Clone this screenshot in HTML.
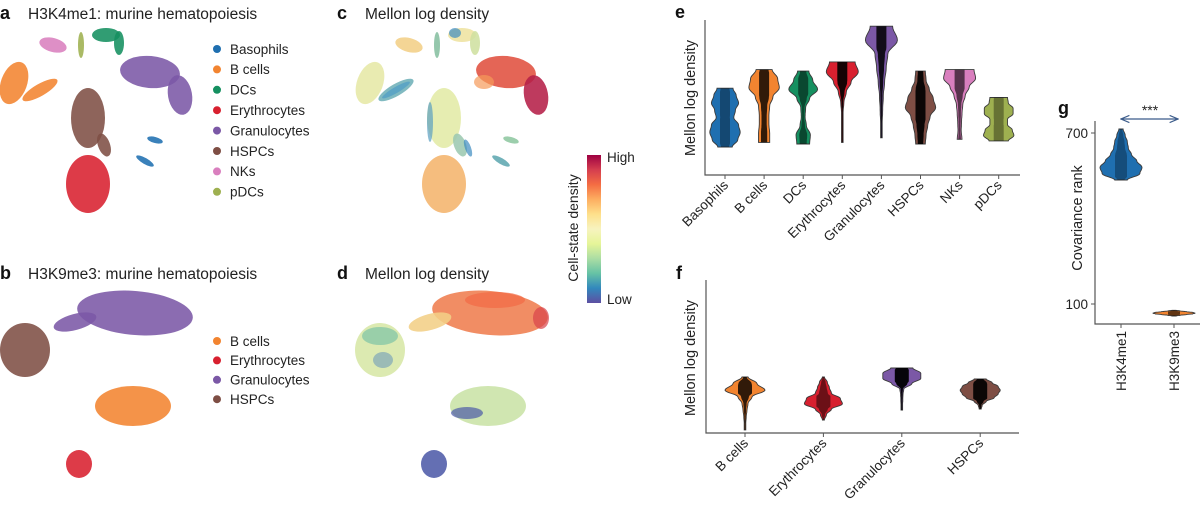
<!DOCTYPE html>
<html><head><meta charset="utf-8"><style>
html,body{margin:0;padding:0;background:#fff;}
svg{display:block;font-family:"Liberation Sans",sans-serif;}
</style></head><body>
<svg id="fig" width="1200" height="519" viewBox="0 0 1200 519" xmlns="http://www.w3.org/2000/svg">
<defs>
<linearGradient id="cbar" x1="0" y1="1" x2="0" y2="0">
<stop offset="0" stop-color="#5e4fa2"/><stop offset="0.1" stop-color="#3288bd"/><stop offset="0.2" stop-color="#66c2a5"/><stop offset="0.3" stop-color="#abdda4"/><stop offset="0.4" stop-color="#e6f598"/><stop offset="0.5" stop-color="#f7f3bf"/><stop offset="0.6" stop-color="#fee08b"/><stop offset="0.7" stop-color="#fdae61"/><stop offset="0.8" stop-color="#f46d43"/><stop offset="0.9" stop-color="#d53e4f"/><stop offset="1" stop-color="#9e0142"/>
</linearGradient>
<marker id="arr" markerWidth="8" markerHeight="8" refX="7" refY="4" orient="auto-start-reverse"><path d="M0,1 L7,4 L0,7" fill="none" stroke="#3b5b8a" stroke-width="1"/></marker>
</defs>
<g id="root"></g>
</svg>
<script>
// ---------- data ----------
const catsA = ['Basophils','B cells','DCs','Erythrocytes','Granulocytes','HSPCs','NKs','pDCs'];
const catColors = ['#1f6fb0','#f28430','#159060','#d8202f','#7b58a6','#7e4e44','#d97fbe','#9eb050'];
// UMAP cluster ellipses, panel a: [cx, cy, rx, ry, rot, categoryIndex]
const umapA = [[53,45,14,7,15,6],[81,45,3,13,0,7],[106,35,14,7,0,2],[119,43,5,12,0,2],[14,83,13,22,20,1],[40,90,20,6,-30,1],[150,72,30,16,5,4],[180,95,12,20,-10,4],[88,118,17,30,0,5],[104,145,6,12,-20,5],[88,184,22,29,0,3],[155,140,8,3,15,0],[145,161,10,3,30,0]];
const densityC = ['#f2cf86','#86bfa0','#eee3a0','#cfe0a0','#e6e8a6','#6fb0b8','#e0503f','#b51f48','#e3eaa6','#9cc8b0','#f4b46c','#8ec7a0','#5fa7b0'];
const accentC = [[40,90,16,3,-30,'#4f9cc4'],[74,122,3,20,0,'#5a9ec0'],[99,33,6,5,0,'#3d8cc0'],[128,82,10,7,0,'#f59a5a'],[112,148,3,9,-20,'#3d8cc0']];
const catsB = [1,3,4,5];
const umapB = [[25,350,25,27,0,5],[135,313,58,22,5,4],[75,322,22,8,-15,4],[133,406,38,20,0,1],[79,464,13,14,0,3]];
const densityD = ['#d7e7a6','#ef7d4f','#f2cf86','#c9e3a6','#4e5ba8'];
const accentD = [[25,336,18,9,0,'#7cc3a5'],[28,360,10,8,0,'#7fa6b8'],[112,413,16,6,0,'#4c5aa6'],[186,318,8,11,0,'#d8434a'],[140,300,30,8,0,'#f26a44']];
// panel e violins (Mellon log density)
const eMin = [1.8,2.1,2.0,2.1,2.4,2.0,2.3,2.2];
const eMax = [5.6,6.8,6.7,7.3,9.6,6.7,6.8,5.0];
const eProf = [[0.45,0.8,0.95,0.85,0.55,0.65,0.85,0.7,0.5],[0.35,0.35,0.3,0.3,0.35,0.55,0.95,0.85,0.5],[0.4,0.45,0.2,0.12,0.15,0.4,0.9,0.6,0.35],[0.05,0.05,0.05,0.05,0.1,0.25,0.55,1.0,0.8],[0.05,0.05,0.08,0.12,0.2,0.3,0.4,1.0,0.7],[0.3,0.35,0.45,0.6,0.95,0.8,0.55,0.35,0.3],[0.15,0.1,0.12,0.15,0.2,0.35,0.6,1.0,0.9],[0.6,0.95,0.85,0.55,0.55,0.9,0.9,0.6,0.55]];
const eDots = [0.35,0.8,0.5,0.9,0.85,0.9,0.6,0.35];
// panel f violins
const fCats = ['B cells','Erythrocytes','Granulocytes','HSPCs'];
const fColorIdx = [1,3,4,5];
const fMin = [0.2,0.85,1.5,1.57];
const fMax = [3.66,3.66,4.25,3.53];
const fProf = [[0.04,0.04,0.06,0.1,0.15,0.35,1.0,0.6,0.15],[0.05,0.15,0.4,0.95,0.85,0.4,0.3,0.2,0.05],[0.04,0.04,0.05,0.06,0.1,0.5,0.95,0.95,0.55],[0.05,0.1,0.3,0.7,0.9,1.0,0.9,0.6,0.3]];
const fDots = [0.8,0.5,0.95,0.9];
// panel g violins (covariance rank)
const gCats = ['H3K4me1','H3K9me3'];
const gColorIdx = [0,1];
const gMin = [535,58];
const gMax = [714,78];
const gProf = [[0.3,0.9,1.0,0.75,0.5,0.35,0.3,0.2,0.1],[0.1,0.3,0.6,0.9,1.0,0.9,0.6,0.3,0.1]];
const gDots = [0.3,0.6];
const gTicks = [700,100];

// ---------- helpers ----------
const NS='http://www.w3.org/2000/svg';
const root=document.getElementById('root');
function mk(tag,attrs,parent){const e=document.createElementNS(NS,tag);for(const k in attrs)e.setAttribute(k,attrs[k]);(parent||root).appendChild(e);return e;}
function txt(s,x,y,size,opts,parent){const t=mk('text',Object.assign({x:x,y:y,'font-size':size,fill:'#222'},opts||{}),parent);t.textContent=s;return t;}

const xE=i=>725+i*39.1, yE=v=>175-v*15.5;
const xF=i=>745+i*78.4, yF=v=>433-v*15.3;
const xG=i=>1121+i*53, yG=r=>133-(r-700)*(171/600);

function profAt(p,t){const f=t*(p.length-1);const i=Math.min(Math.floor(f),p.length-2);const u=f-i;const c=(1-Math.cos(u*Math.PI))/2;return p[i]*(1-c)+p[i+1]*c;}
function violinPts(cx,vmin,vmax,prof,W,ys,cap){
  const L=[],R=[],JL=[],JR=[];const N=48;
  for(let k=0;k<=N;k++){const t=k/N;const v=vmin+(vmax-vmin)*t;const w=profAt(prof,t)*W;const y=ys(v);
    L.push([cx-w,y]);R.push([cx+w,y]);const j=Math.min(w*0.55,cap);JL.push([cx-j,y]);JR.push([cx+j,y]);}
  const outline=L.concat(R.reverse()).map(p=>p[0].toFixed(1)+','+p[1].toFixed(1)).join(' ');
  const jit=JL.concat(JR.reverse()).map(p=>p[0].toFixed(1)+','+p[1].toFixed(1)).join(' ');
  return [outline,jit];
}

// ---------- scatter panels ----------
function scatter(shapes,colorFn,dx,name){
  const g=mk('g',{});
  
  
  shapes.forEach((s,i)=>{const e=mk('ellipse',{cx:s[0]+dx,cy:s[1],rx:s[2],ry:s[3],transform:'rotate('+s[4]+' '+(s[0]+dx)+' '+s[1]+')',fill:colorFn(s,i),'fill-opacity':0.88},g);
    
    });
  return g;
}
function accents(list,dx,g){list.forEach(s=>{const e=mk('ellipse',{cx:s[0]+dx,cy:s[1],rx:s[2],ry:s[3],transform:'rotate('+s[4]+' '+(s[0]+dx)+' '+s[1]+')',fill:s[5],'fill-opacity':0.7},g);
  
  });}

// panel labels and titles
function plabel(l,x,y,title,tx){const a=txt(l,x,y,18,{'font-weight':'bold',fill:'#111'});
  if(title){const t=txt(title,tx,y,15.5,{});}}
plabel('a',0,19,'H3K4me1: murine hematopoiesis',28);
plabel('b',0,279,'H3K9me3: murine hematopoiesis',28);
plabel('c',337,19,'Mellon log density',365);
plabel('d',337,279,'Mellon log density',365);
plabel('e',675,18);
plabel('f',676,279);
plabel('g',1058,114);

scatter(umapA,s=>catColors[s[5]],0,'umap-a');
scatter(umapB,s=>catColors[s[5]],0,'umap-b');
const gc=scatter(umapA,(s,i)=>densityC[i],356,'umap-c'); accents(accentC,356,gc);
const gd=scatter(umapB,(s,i)=>densityD[i],355,'umap-d'); accents(accentD,355,gd);

// legends
catsA.forEach((c,i)=>{const y=49+i*20.4;const d=mk('circle',{cx:217,cy:y,r:4,fill:catColors[i]});
  const t=txt(c,230,y+4.8,13.5,{});});
catsB.forEach((ci,i)=>{const y=341+i*19.4;const d=mk('circle',{cx:217,cy:y,r:4,fill:catColors[ci]});
  const t=txt(catsA[ci],230,y+4.8,13.5,{});});

// colorbar
const cb=mk('rect',{x:587,y:155,width:14,height:148,fill:'url(#cbar)'});
let t=txt('High',607,162,13.5,{});
t=txt('Low',607,304,13.5,{});
t=txt('Cell-state density',0,0,14,{'text-anchor':'middle',transform:'translate(578,228) rotate(-90)'});

// ---------- violin panels ----------
function axes(x0,y0,y1,x1,name){const a=mk('path',{d:'M'+x0+','+y0+' L'+x0+','+y1+' L'+x1+','+y1,fill:'none',stroke:'#555','stroke-width':1.2});}
function drawViolins(cats,xs,ys,mins,maxs,profs,colorIdx,dots,W,cap,panel){
  cats.forEach((c,i)=>{const [o,j]=violinPts(xs(i),mins[i],maxs[i],profs[i],W,ys,cap);
    const v=mk('polygon',{points:o,fill:catColors[colorIdx[i]],stroke:'#3a3a3a','stroke-width':0.9});
    
    
    const jj=mk('polygon',{points:j,fill:'#000','fill-opacity':dots[i]});
    
    
  });
}
// e
axes(705,20,175,1020,'axes-e');
drawViolins(catsA,xE,yE,eMin,eMax,eProf,[0,1,2,3,4,5,6,7],eDots,16,5,'e');
catsA.forEach((c,i)=>{mk('line',{x1:xE(i),y1:175,x2:xE(i),y2:179,stroke:'#555'});
  const l=txt(c,0,0,13.5,{'text-anchor':'end',transform:'translate('+(xE(i)+4)+',186) rotate(-45)'});});
t=txt('Mellon log density',0,0,14.5,{'text-anchor':'middle',transform:'translate(695,98) rotate(-90)'});
// f
axes(706,280,433,1019,'axes-f');
drawViolins(fCats,xF,yF,fMin,fMax,fProf,fColorIdx,fDots,20,7,'f');
fCats.forEach((c,i)=>{mk('line',{x1:xF(i),y1:433,x2:xF(i),y2:437,stroke:'#555'});
  const l=txt(c,0,0,13.5,{'text-anchor':'end',transform:'translate('+(xF(i)+4)+',444) rotate(-45)'});});
t=txt('Mellon log density',0,0,14.5,{'text-anchor':'middle',transform:'translate(695,358) rotate(-90)'});
// g
axes(1095,121,324,1200,'axes-g');
drawViolins(gCats,xG,yG,gMin,gMax,gProf,gColorIdx,gDots,21,6,'g');
gTicks.forEach(v=>{mk('line',{x1:1091,y1:yG(v),x2:1095,y2:yG(v),stroke:'#555'});
  const l=txt(String(v),1088,yG(v)+5,13.5,{'text-anchor':'end'});});
gCats.forEach((c,i)=>{mk('line',{x1:xG(i),y1:324,x2:xG(i),y2:328,stroke:'#555'});
  const l=txt(c,0,0,13.5,{'text-anchor':'end',transform:'translate('+(xG(i)+5)+',331) rotate(-90)'});});
t=txt('Covariance rank',0,0,14.5,{'text-anchor':'middle',transform:'translate(1082,218) rotate(-90)'});
const ar=mk('line',{x1:xG(0),y1:119,x2:xG(1)+4,y2:119,stroke:'#3b5b8a','stroke-width':1.2,'marker-start':'url(#arr)','marker-end':'url(#arr)'});

t=txt('***',1150,115,14,{'text-anchor':'middle'});
</script>
</body></html>
